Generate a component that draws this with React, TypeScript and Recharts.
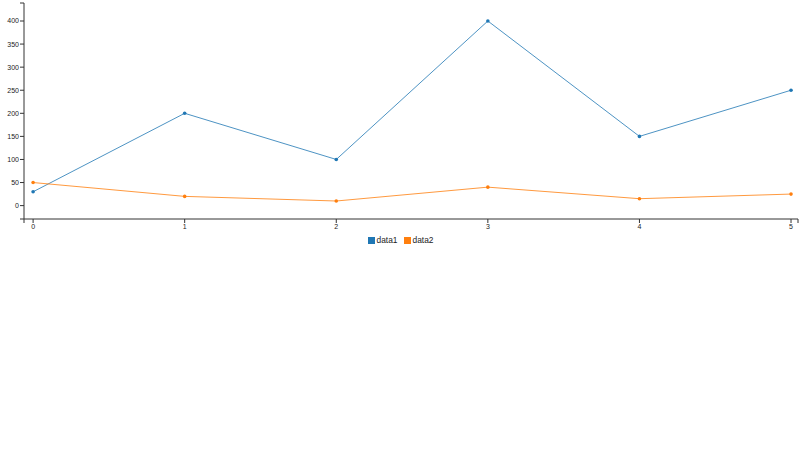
import React from 'react'
import { LineChart, Line, XAxis, YAxis, Legend } from 'recharts'

// series values
const xValues = [0, 1, 2, 3, 4, 5]
const data1 = [30, 200, 100, 400, 150, 250]
const data2 = [50, 20, 10, 40, 15, 25]

const seriesNames = ['data1', 'data2']
const seriesColors = ['#1f77b4', '#ff7f0e']

// tick labels; the outer ends of each axis get an unlabelled tick (d3 style)
const xDomain: [number, number] = [-0.06, 5.046]
const yDomain: [number, number] = [-29, 439]
const xTicks = [xDomain[0], ...xValues, xDomain[1]]
const yTicks = [yDomain[0], 0, 50, 100, 150, 200, 250, 300, 350, 400, yDomain[1]]

const rows = xValues.map((x, i) => ({ x, data1: data1[i], data2: data2[i] }))

const FONT = '"Liberation Sans", Arial, sans-serif'

function hideEnds(ends: number[]) {
  return (v: number) => (ends.includes(v) ? '' : String(v))
}

function LegendContent() {
  return (
    <div
      style={{
        height: 20, display: 'flex', alignItems: 'center', justifyContent: 'center',
        fontFamily: FONT, fontSize: 8.4, color: '#222', paddingLeft: 3,
      }}
    >
      {seriesNames.map((name, i) => (
        <span key={name} style={{ display: 'flex', alignItems: 'center', marginRight: i === 0 ? 6 : 0 }}>
          <span style={{ width: 7, height: 7, background: seriesColors[i], marginRight: 2 }} />
          {name}
        </span>
      ))}
    </div>
  )
}

export default function App() {
  const tick = { fontSize: 7, fill: '#222', fontFamily: FONT }
  return (
    <div style={{ position: 'absolute', left: 0, top: 0, width: 800, height: 450, background: '#fff' }}>
      <LineChart width={800} height={250} data={rows} margin={{ top: 3, right: 2, bottom: 0, left: 0 }}>
        <XAxis
          dataKey="x" type="number" domain={xDomain} ticks={xTicks}
          tickFormatter={hideEnds(xDomain)} interval={0}
          height={11} tick={tick} tickSize={4} tickMargin={1}
          stroke="#333" tickLine={{ stroke: '#333' }}
        />
        <YAxis
          type="number" domain={yDomain} ticks={yTicks}
          tickFormatter={hideEnds(yDomain)} interval={0}
          width={24} tick={tick} tickSize={4} tickMargin={1}
          stroke="#333" tickLine={{ stroke: '#333' }}
        />
        <Legend verticalAlign="bottom" height={20} content={<LegendContent />} />
        {seriesNames.map((name, i) => (
          <Line
            key={name} dataKey={name} type="linear"
            stroke={seriesColors[i]} strokeWidth={0.8}
            dot={{ r: 1.8, fill: seriesColors[i], stroke: 'none' }}
            activeDot={false} isAnimationActive={false}
          />
        ))}
      </LineChart>
    </div>
  )
}
